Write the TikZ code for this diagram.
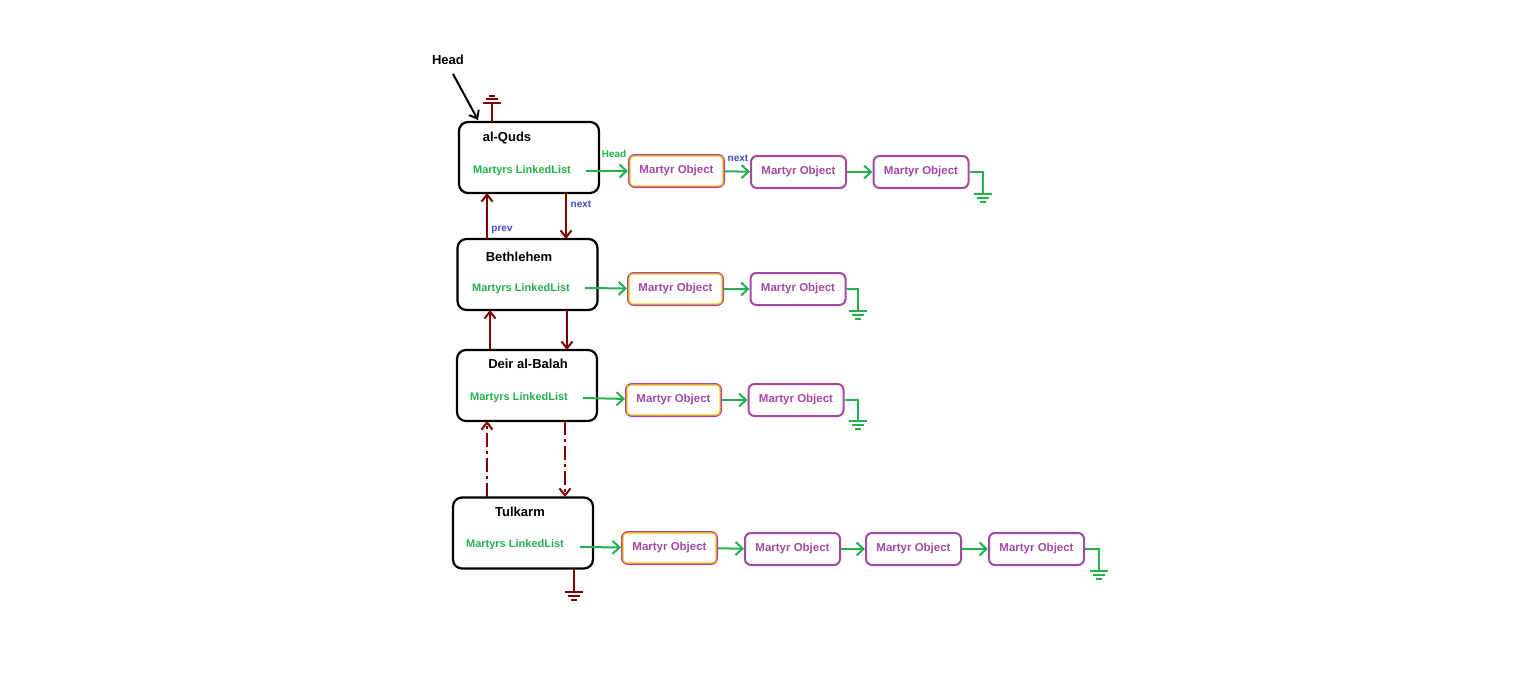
\documentclass[tikz,border=0pt]{standalone}
\usepackage{fontspec}
\setmainfont{Liberation Sans}
\usetikzlibrary{arrows.meta,calc}
\definecolor{dred}{RGB}{128,0,0}
\definecolor{gr}{RGB}{34,177,76}
\definecolor{pur}{RGB}{163,73,164}
\definecolor{bl}{RGB}{63,72,204}
\definecolor{yel}{RGB}{255,201,14}
\begin{document}
\begin{tikzpicture}[x=1pt,y=-1pt,
  city/.style={draw=black,line width=2.2pt,rounded corners=9pt,minimum width=140pt,minimum height=71pt,inner sep=0pt},
  title/.style={font=\bfseries\fontsize{13}{14}\selectfont,text=black},
  ll/.style={font=\bfseries\fontsize{11}{12}\selectfont,text=gr},
  obj/.style={draw=pur,line width=2pt,rounded corners=6pt,minimum width=95pt,minimum height=32pt,inner sep=0pt,font=\bfseries\fontsize{11.5}{12}\selectfont,text=pur},
  garr/.style={draw=gr,line width=2pt,-{Straight Barb[length=7pt,width=13pt]}},
  rarr/.style={draw=dred,line width=2pt,-{Straight Barb[length=7pt,width=11pt]}},
  lbl/.style={font=\bfseries\fontsize{10}{11}\selectfont,text=bl},
  gline/.style={draw=gr,line width=2pt},
  yin/.style={draw=yel,line width=1.3pt,rounded corners=4pt},
]
\useasboundingbox (0,0) rectangle (1536,691);
% city nodes
\node[city] (q) at (529,157.5) {};
\node[title] (qt) at (507,138) {al-Quds};
\node[ll] (ql) at (522,171) {Martyrs LinkedList};
\node[city] (b) at (527.5,274.5) {};
\node[title] (bt) at (519,257) {Bethlehem};
\node[ll] (bl) at (521,289) {Martyrs LinkedList};
\node[city] (d) at (527,385.5) {};
\node[title] (dt) at (528,364) {Deir al-Balah};
\node[ll] (dl) at (519,398) {Martyrs LinkedList};
\node[city] (t) at (523,533) {};
\node[title] (tt) at (520,512) {Tulkarm};
\node[ll] (tl) at (515,545) {Martyrs LinkedList};
% head
\node[title] (head) at (448,60) {Head};
\draw[line width=2pt,-{Straight Barb[length=7pt,width=11pt]}] (453,74) -- (478,120);
% top null
\draw[dred,line width=2pt] (492,122) -- (492,103) (483,103) -- (501,103) (486,99) -- (498,99) (489,95.5) -- (495,95.5);
% row 1
\node[obj] (o11) at (676.5,171) {Martyr Object};
\node[obj] (o12) at (798.5,172) {Martyr Object};
\node[obj] (o13) at (921,172) {Martyr Object};
\draw[garr] (586,171) -- (o11);
\draw[garr] (o11) -- (o12);
\draw[garr] (o12) -- (o13);
\node[font=\bfseries\fontsize{10}{11}\selectfont,text=gr] at (614,154) {Head};
\node[lbl] at (738,158) {next};
\draw[gline] (o13.east) -- (983,172) -- (983,194) (974,194) -- (992,194) (977,198) -- (989,198) (980,202) -- (986,202);
% row 2
\node[obj] (o21) at (675.5,289) {Martyr Object};
\node[obj] (o22) at (798,289) {Martyr Object};
\draw[garr] (585,288) -- (o21);
\draw[garr] (o21) -- (o22);
\draw[gline] (o22.east) -- (858,289) -- (858,311) (849,311) -- (867,311) (852,315) -- (864,315) (855,319) -- (861,319);
% row 3
\node[obj] (o31) at (673.5,400) {Martyr Object};
\node[obj] (o32) at (796,400) {Martyr Object};
\draw[garr] (583,398) -- (o31);
\draw[garr] (o31) -- (o32);
\draw[gline] (o32.east) -- (858,400) -- (858,421) (849,421) -- (867,421) (852,425) -- (864,425) (855,429) -- (861,429);
% row 4
\node[obj] (o41) at (669.5,548) {Martyr Object};
\node[obj] (o42) at (792.5,549) {Martyr Object};
\node[obj] (o43) at (913.5,549) {Martyr Object};
\node[obj] (o44) at (1036.5,549) {Martyr Object};
\draw[garr] (580,547) -- (o41);
\draw[garr] (o41) -- (o42);
\draw[garr] (o42) -- (o43);
\draw[garr] (o43) -- (o44);
\draw[gline] (o44.east) -- (1099,549) -- (1099,571) (1090,571) -- (1108,571) (1093,575) -- (1105,575) (1096,579) -- (1102,579);
% yellow inner borders of first objects
\foreach \o in {o11,o21,o31,o41}
  \draw[yin] ($(\o.south west)+(2,-2)$) rectangle ($(\o.north east)+(-2,2)$);
% vertical links
\draw[rarr] (566,193) -- (566,239);
\node[lbl] at (581,204) {next};
\draw[rarr] (487,239) -- (487,193);
\node[lbl] at (502,230) {prev};
\draw[rarr] (567,310) -- (567,350);
\draw[rarr] (490,350) -- (490,310);
\draw[rarr,dash pattern=on 14pt off 4pt on 3pt off 4pt] (565,421) -- (565,497);
\draw[rarr,dash pattern=on 14pt off 4pt on 3pt off 4pt] (487,497) -- (487,421);
% bottom null
\draw[dred,line width=2pt] (574,569) -- (574,592) (565,592) -- (583,592) (568,596) -- (580,596) (571,600) -- (577,600);
\end{tikzpicture}
\end{document}
